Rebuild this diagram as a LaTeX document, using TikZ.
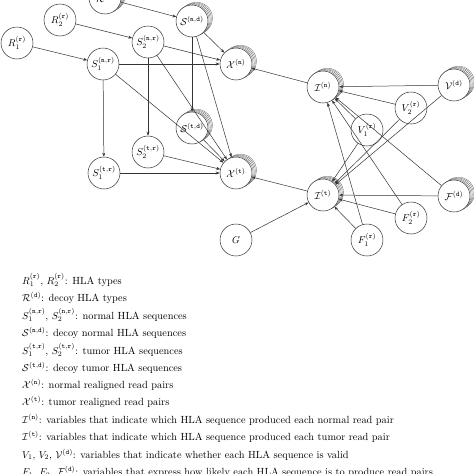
\documentclass[tikz,border=0pt]{standalone}
\usetikzlibrary{calc,arrows.meta}
\begin{document}
\begin{tikzpicture}[x=1pt,y=-1pt,
  vnode/.style={circle,draw=black!80,fill=white,line width=0.5pt,minimum size=32pt,inner sep=0pt,font=\fontsize{10.4}{12}\selectfont},
  back/.style={draw=black!65,fill=white,line width=0.3pt},
  edge/.style={draw=black!80,line width=0.5pt,-{Stealth[length=4pt,width=3pt]}},
  legend/.style={anchor=base west,inner sep=0pt,font=\fontsize{10.37}{12}\selectfont}]
\useasboundingbox (0,0) rectangle (474,474);
\newcommand\stk[3]{%
  \foreach \k in {4,3,2,1} \draw[back] ($(#2)+(\k*1.1pt,\k*0.7pt)$) circle (16pt);
  \node[vnode] (#1) at (#2) {#3};}
% plain nodes
\node[vnode] (R2) at (60,20) {$R_2^{(\mathtt{r})}$};
\node[vnode] (R1) at (17,43) {$R_1^{(\mathtt{r})}$};
\node[vnode] (S2n) at (148,42) {$S_2^{(\mathtt{n,r})}$};
\node[vnode] (S1n) at (103,64) {$S_1^{(\mathtt{n,r})}$};
\node[vnode] (S2t) at (148,152) {$S_2^{(\mathtt{t,r})}$};
\node[vnode] (S1t) at (104,173) {$S_1^{(\mathtt{t,r})}$};
\node[vnode] (G) at (236,240) {$G$};
\node[vnode] (V2) at (411,108) {$V_2^{(\mathtt{r})}$};
\node[vnode] (V1) at (367,130) {$V_1^{(\mathtt{r})}$};
\node[vnode] (F2) at (411,218) {$F_2^{(\mathtt{r})}$};
\node[vnode] (F1) at (367,240) {$F_1^{(\mathtt{r})}$};
% stacked nodes
\stk{Rd}{105,-2}{$\mathcal{R}^{(\mathtt{d})}$}
\stk{Snd}{192,21}{$\mathcal{S}^{(\mathtt{n,d})}$}
\stk{Std}{192,128}{$\mathcal{S}^{(\mathtt{t,d})}$}
\stk{Xn}{236,64}{$\mathcal{X}^{(\mathtt{n})}$}
\stk{Xt}{236,173}{$\mathcal{X}^{(\mathtt{t})}$}
\stk{In}{323,87}{$\mathcal{I}^{(\mathtt{n})}$}
\stk{It}{323,195}{$\mathcal{I}^{(\mathtt{t})}$}
\stk{Vd}{454,85}{$\mathcal{V}^{(\mathtt{d})}$}
\stk{Fd}{454,196}{$\mathcal{F}^{(\mathtt{d})}$}
% edges
\draw[edge] (Rd) -- (Snd);
\draw[edge] (R2) -- (S2n);
\draw[edge] (R1) -- (S1n);
\draw[edge] (S1n) -- (Xn);
\draw[edge] (S1n) -- (S1t);
\draw[edge] (S1n) -- (Xt);
\draw[edge] (S2n) -- (Xn);
\draw[edge] (S2n) -- (S2t);
\draw[edge] (S2n) -- (Xt);
\draw[edge] (Snd) -- (Xn);
\draw[edge] (Snd) -- (Std);
\draw[edge] (Snd) -- (Xt);
\draw[edge] (Std) -- (Xt);
\draw[edge] (S2t) -- (Xt);
\draw[edge] (S1t) -- (Xt);
\draw[edge] (In) -- (Xn);
\draw[edge] (It) -- (Xt);
\draw[edge] (G) -- (It);
\draw[edge] (Vd) -- (In);
\draw[edge] (Vd) -- (It);
\draw[edge] (V2) -- (In);
\draw[edge] (V2) -- (It);
\draw[edge] (V1) -- (In);
\draw[edge] (V1) -- (It);
\draw[edge] (Fd) -- (In);
\draw[edge] (Fd) -- (It);
\draw[edge] (F2) -- (In);
\draw[edge] (F2) -- (It);
\draw[edge] (F1) -- (In);
\draw[edge] (F1) -- (It);
% legend
\node[legend] (L1) at (22,284) {$R_1^{(\mathtt{r})}$, $R_2^{(\mathtt{r})}$: HLA types};
\node[legend] (L2) at (22,301.5) {$\mathcal{R}^{(\mathtt{d})}$: decoy HLA types};
\node[legend] (L3) at (22,319) {$S_1^{(\mathtt{n,r})}$, $S_2^{(\mathtt{n,r})}$: normal HLA sequences};
\node[legend] (L4) at (22,336.5) {$\mathcal{S}^{(\mathtt{n,d})}$: decoy normal HLA sequences};
\node[legend] (L5) at (22,354) {$S_1^{(\mathtt{t,r})}$, $S_2^{(\mathtt{t,r})}$: tumor HLA sequences};
\node[legend] (L6) at (22,371) {$\mathcal{S}^{(\mathtt{t,d})}$: decoy tumor HLA sequences};
\node[legend] (L7) at (22,388) {$\mathcal{X}^{(\mathtt{n})}$: normal realigned read pairs};
\node[legend] (L8) at (22,405.5) {$\mathcal{X}^{(\mathtt{t})}$: tumor realigned read pairs};
\node[legend] (L9) at (22,423) {$\mathcal{I}^{(\mathtt{n})}$: variables that indicate which HLA sequence produced each normal read pair};
\node[legend] (L10) at (22,440.5) {$\mathcal{I}^{(\mathtt{t})}$: variables that indicate which HLA sequence produced each tumor read pair};
\node[legend] (L11) at (22,458) {$V_1$, $V_2$, $\mathcal{V}^{(\mathtt{d})}$: variables that indicate whether each HLA sequence is valid};
\node[legend] (L12) at (22,475.5) {$F_1$, $F_2$, $\mathcal{F}^{(\mathtt{d})}$: variables that express how likely each HLA sequence is to produce read pairs};
\end{tikzpicture}
\end{document}
